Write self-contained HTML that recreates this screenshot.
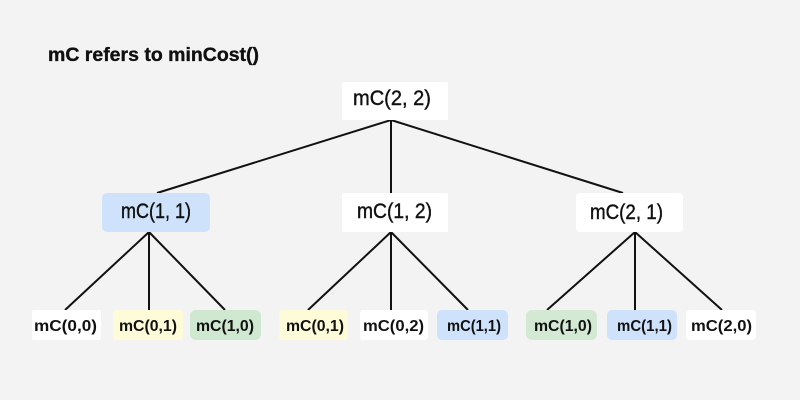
<!DOCTYPE html>
<html>
<head>
<meta charset="utf-8">
<style>
html,body{margin:0;padding:0;background:#f3f3f3}
svg{display:block}
text{font-family:"Liberation Sans",sans-serif;fill:#111;}
.m{font-size:21px;stroke:#111;stroke-width:.4px}
.l{font-size:16px;font-weight:bold}
.t{font-size:19px;font-weight:bold;stroke:#000;stroke-width:.3px}
line{stroke:#111;stroke-width:2}
</style>
</head>
<body>
<svg width="800" height="400" viewBox="0 0 800 400" xmlns="http://www.w3.org/2000/svg">
<rect width="800" height="400" fill="#f3f3f3"/>

<line x1="391" y1="120" x2="157" y2="193"/>
<line x1="391" y1="120" x2="391" y2="193"/>
<line x1="391" y1="120" x2="623" y2="193"/>
<line x1="149" y1="232" x2="65" y2="310"/>
<line x1="149" y1="232" x2="149" y2="310"/>
<line x1="149" y1="232" x2="225" y2="310"/>
<line x1="391" y1="232" x2="308" y2="310"/>
<line x1="391" y1="232" x2="391" y2="310"/>
<line x1="391" y1="232" x2="468" y2="310"/>
<line x1="635" y1="232" x2="547" y2="310"/>
<line x1="635" y1="232" x2="635" y2="310"/>
<line x1="635" y1="232" x2="722" y2="310"/>

<text class="t" x="48" y="61" textLength="211" lengthAdjust="spacingAndGlyphs">mC refers to minCost()</text>

<rect x="342" y="82" width="106" height="38" rx="2" fill="#fff"/>
<text class="m" x="353" y="105" textLength="78" lengthAdjust="spacingAndGlyphs">mC(2, 2)</text>

<rect x="102" y="193" width="108" height="39" rx="5" fill="#cfe2fb"/>
<text class="m" x="121" y="218" textLength="70" lengthAdjust="spacingAndGlyphs">mC(1, 1)</text>
<rect x="342" y="193" width="106" height="39" rx="2" fill="#fff"/>
<text class="m" x="357" y="218" textLength="75" lengthAdjust="spacingAndGlyphs">mC(1, 2)</text>
<rect x="576" y="193" width="107" height="39" rx="4" fill="#fff"/>
<text class="m" x="590" y="219" textLength="73" lengthAdjust="spacingAndGlyphs">mC(2, 1)</text>

<rect x="32" y="310" width="69" height="30" rx="2" fill="#fff"/>
<text class="l" x="34" y="331" textLength="63" lengthAdjust="spacingAndGlyphs">mC(0,0)</text>
<rect x="113" y="310" width="70" height="30" rx="3" fill="#fdfbd8"/>
<text class="l" x="119" y="331" textLength="58" lengthAdjust="spacingAndGlyphs">mC(0,1)</text>
<rect x="190" y="310" width="71" height="30" rx="6" fill="#cfe8d0"/>
<text class="l" x="196" y="331" textLength="58" lengthAdjust="spacingAndGlyphs">mC(1,0)</text>
<rect x="279" y="310" width="69" height="30" rx="3" fill="#fdfbd8"/>
<text class="l" x="286" y="331" textLength="58" lengthAdjust="spacingAndGlyphs">mC(0,1)</text>
<rect x="360" y="310" width="68" height="30" rx="3" fill="#fff"/>
<text class="l" x="363" y="331" textLength="61" lengthAdjust="spacingAndGlyphs">mC(0,2)</text>
<rect x="437" y="310" width="71" height="30" rx="5" fill="#cfe2fb"/>
<text class="l" x="447" y="331" textLength="54" lengthAdjust="spacingAndGlyphs">mC(1,1)</text>
<rect x="526" y="310" width="71" height="30" rx="6" fill="#d3e9d3"/>
<text class="l" x="534" y="331" textLength="58" lengthAdjust="spacingAndGlyphs">mC(1,0)</text>
<rect x="607" y="310" width="70" height="30" rx="5" fill="#cfe2fb"/>
<text class="l" x="617" y="331" textLength="55" lengthAdjust="spacingAndGlyphs">mC(1,1)</text>
<rect x="686" y="310" width="70" height="30" rx="4" fill="#fff"/>
<text class="l" x="691" y="331" textLength="61" lengthAdjust="spacingAndGlyphs">mC(2,0)</text>
</svg>
</body>
</html>
